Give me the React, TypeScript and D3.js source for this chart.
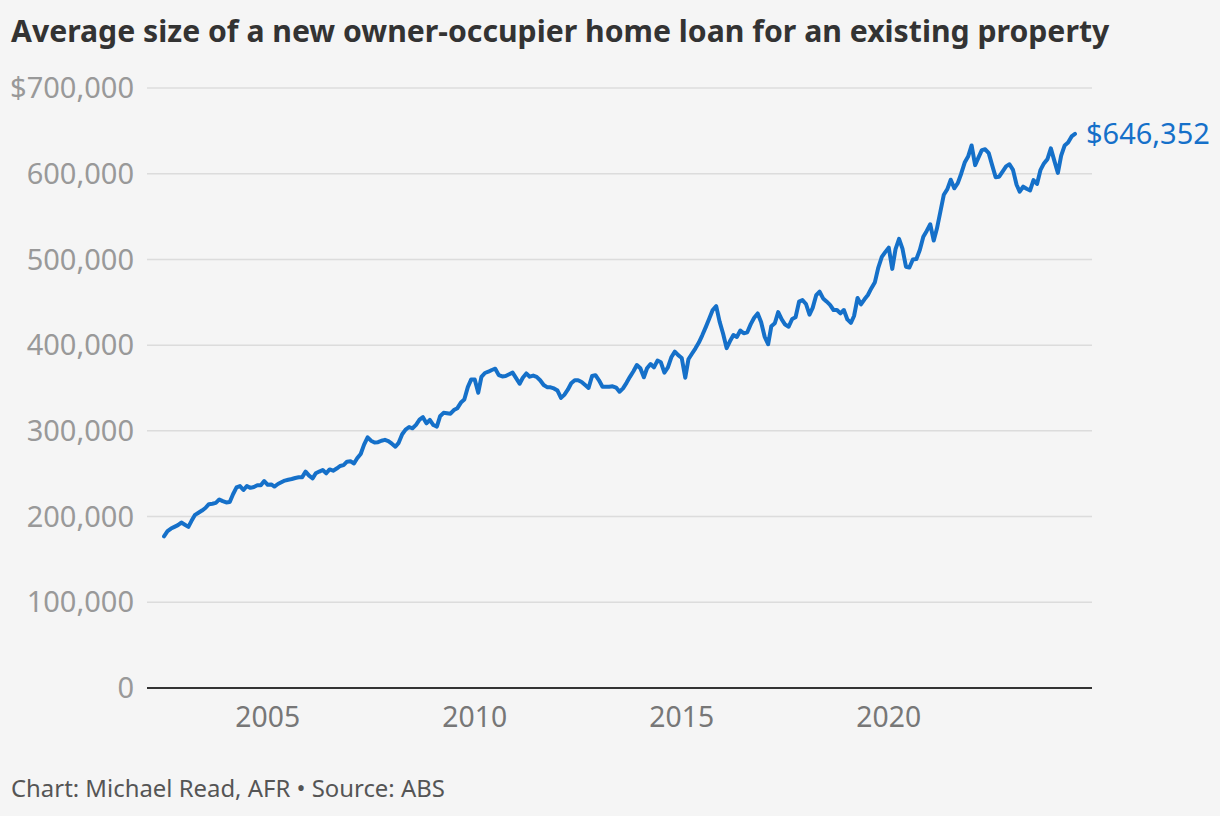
import React, {useEffect} from 'react';
import * as d3 from 'd3';

// Average new owner-occupier loan size, existing property (ABS), monthly
const title = 'Average size of a new owner-occupier home loan for an existing property';
const source = 'Chart: Michael Read, AFR \u2022 Source: ABS';

const firstMonth = '2002-07';

// thousands of dollars, one value per month from Jul 2002
const loanSizeK = [
    177, 183, 186, 188, 190, 193,
    190.5, 188, 195, 202, 204.5, 207, 210, 214.5, 215, 216, 220, 218,
    216.5, 217, 226, 234, 235.6, 231, 235.6, 233.5, 234.5, 236.5, 236.5, 241.5,
    237, 237.5, 235, 238, 240, 242, 243, 243.8, 245, 245.8, 246, 252.4,
    247.7, 244.6, 250.5, 252.5, 254.3, 250.5, 255, 253.5, 256, 259, 260, 264,
    264.5, 262, 268, 273, 284, 292.5, 288.5, 286.5, 286.8, 288.5, 289.5, 288,
    285, 281.5, 286, 296, 301.5, 304.5, 303, 307, 313, 316, 308.8, 312.7,
    306.8, 305, 317, 321, 320.5, 320, 324.3, 326.5, 333, 336.5, 351, 360,
    360, 344.5, 363, 367.5, 369, 371, 372.5, 365, 363.5, 364, 366, 367.9,
    361.5, 355, 362, 367, 363.2, 364.5, 363, 359, 353.5, 351, 350.8, 349.5,
    347, 338.5, 342, 348, 355.5, 359, 359, 357, 353.5, 350, 364, 365,
    359, 351.5, 351.5, 351.5, 352, 350.5, 345.7, 349.6, 356, 363, 369.5, 376.8,
    373, 362.5, 373, 378, 374, 382, 380, 368, 374, 385.8, 392.4, 388.3,
    385, 362, 383.5, 390, 396, 403, 411.5, 421, 431, 441, 445.5, 427.5,
    413.3, 396.5, 404.5, 411.8, 409.5, 417, 413.8, 415, 424.5, 432, 437, 427,
    410, 401, 422, 425.5, 438.5, 430, 424, 421.5, 430.5, 432.5, 450.7, 452.5,
    448, 435.5, 443.5, 458.3, 462.3, 454.5, 451, 447, 441, 441, 437, 441,
    430, 426, 434, 455, 447.5, 453.5, 458.5, 466.5, 473.5, 490.5, 503, 508.5,
    513.8, 489, 512, 524, 512.5, 491.5, 490.5, 500, 500.5, 511, 526.5, 533.3,
    541, 522, 536, 556, 575.5, 582, 593, 583, 589, 600, 613, 620,
    633, 610, 618.5, 627.5, 628.5, 624, 610, 596, 596.5, 602.5, 608.5, 611,
    604.5, 587.5, 579, 585, 582.5, 580.5, 592.5, 588, 604.5, 612, 617, 629.6,
    615, 601, 621, 633, 636.5, 643.5, 646.352
];

const yTicks = [0, 100000, 200000, 300000, 400000, 500000, 600000, 700000];
const xTickYears = [2005, 2010, 2015, 2020];

const width = 1220;
const height = 816;
const font = '"Noto Sans", sans-serif';
const blue = '#1570c9';

function App() {

    useEffect(() => {
        document.body.style.margin = '0';
        document.body.style.background = '#f5f5f5';
    }, []);

    const start = d3.timeParse('%Y-%m')(firstMonth) as Date;
    const data = loanSizeK.map((v, i) => ({
        date: d3.timeMonth.offset(start, i),
        value: v * 1000
    }));
    const last = data[data.length - 1];

    const gridLeft = 147;
    const gridRight = 1092;

    const x = d3.scaleTime()
        .domain([data[0].date, last.date])
        .range([164, 1075]);

    const y = d3.scaleLinear()
        .domain([0, 700000])
        .range([688, 88]);

    const line = d3.line<{date: Date, value: number}>()
        .x((d) => x(d.date))
        .y((d) => y(d.value))
        .curve(d3.curveLinear);

    const fmt = d3.format(',');

    return (
        <svg width={width} height={height} style={{display: 'block', background: '#f5f5f5'}}>
            <text x={11} y={42} fontFamily={font} fontWeight="bold" fontSize={30.2} fill="#333">
                {title}
            </text>

            {/* gridlines + y labels */}
            {yTicks.map((t) => (
                <g key={t}>
                    {t > 0 && (
                        <line x1={gridLeft} x2={gridRight} y1={y(t)} y2={y(t)}
                              stroke="#dcdcdc" strokeWidth={1.5}/>
                    )}
                    <text x={134} y={y(t)} dy="0.35em" textAnchor="end"
                          fontFamily={font} fontSize={29} fill="#999">
                        {(t === 700000 ? '$' : '') + fmt(t)}
                    </text>
                </g>
            ))}

            {/* baseline */}
            <line x1={gridLeft} x2={gridRight} y1={y(0)} y2={y(0)} stroke="#333" strokeWidth={2}/>

            {/* year labels */}
            {xTickYears.map((yr) => (
                <text key={yr} x={x(new Date(yr, 0, 1))} y={727} textAnchor="middle"
                      fontFamily={font} fontSize={28.3} fill="#777">
                    {yr}
                </text>
            ))}

            <path d={line(data) || ''} fill="none" stroke={blue} strokeWidth={4}
                  strokeLinejoin="round" strokeLinecap="round"/>

            <text x={x(last.date) + 11} y={y(last.value)} dy="0.35em"
                  fontFamily={font} fontSize={29} fill={blue}>
                {'$' + fmt(Math.round(last.value))}
            </text>

            <text x={11} y={797} fontFamily={font} fontSize={23.9} fill="#555">
                {source}
            </text>
        </svg>
    );
}

export default App;
